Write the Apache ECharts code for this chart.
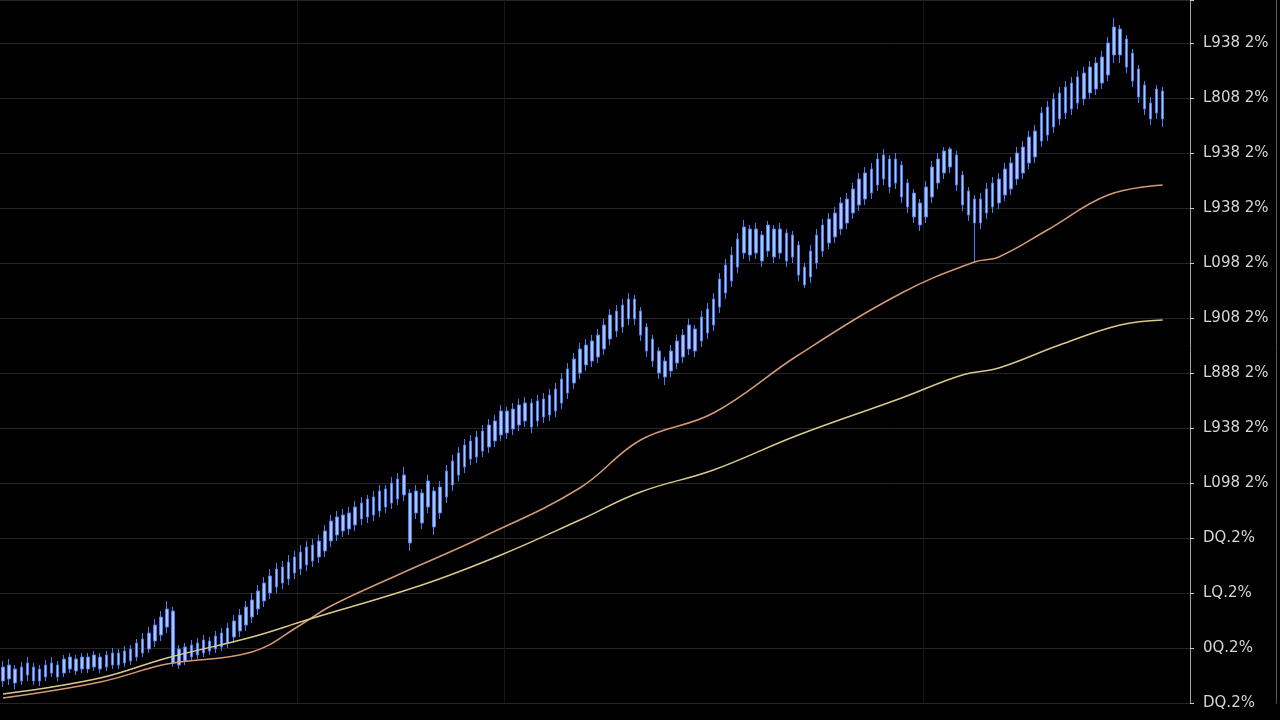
<!DOCTYPE html>
<html>
<head>
<meta charset="utf-8">
<style>
html,body{margin:0;padding:0;background:#000;}
#chart{width:1280px;height:720px;}
</style>
<script src="https://cdn.jsdelivr.net/npm/echarts@6/dist/echarts.min.js"></script>
</head>
<body>
<div id="chart"></div>
<script>
// Candles: [open, close, low, high] (height units above the lowest tick)
const candles = [
[36,22,16,42],[24,38,18,44],[34,20,14,38],[22,36,18,41],[28,40,22,46],[36,22,18,40],[22,34,17,38],[26,38,22,43],[30,40,26,46],[38,26,22,42],
[30,44,26,48],[34,46,30,50],[44,32,28,48],[34,46,30,50],[46,34,30,50],[36,48,32,52],[46,34,30,50],[36,48,32,52],[38,50,34,55],[50,38,34,54],
[40,52,36,57],[42,54,38,58],[46,60,42,64],[50,64,46,70],[54,70,50,76],[62,78,56,84],[68,86,62,92],[76,94,70,102],[92,40,36,96],[38,54,34,58],
[42,56,38,60],[46,58,42,63],[48,60,44,65],[50,63,46,68],[62,52,48,66],[54,67,50,72],[56,70,52,75],[60,75,55,80],[66,82,60,88],[72,88,66,94],
[78,96,72,102],[86,103,80,110],[94,112,88,118],[102,120,96,126],[110,127,104,134],[116,134,110,140],[136,120,114,142],[124,141,118,148],[130,146,124,152],[134,151,128,158],
[138,156,132,162],[158,142,136,164],[146,162,140,168],[152,172,146,178],[162,182,156,188],[168,186,162,192],[188,172,166,194],[174,190,168,196],[178,196,172,202],[184,200,178,206],
[204,186,180,208],[188,206,182,212],[192,212,186,218],[214,196,190,218],[200,220,194,226],[204,224,198,230],[208,228,202,236],[210,160,152,214],[190,212,184,218],[210,180,174,214],
[196,222,190,228],[212,176,168,216],[190,216,184,222],[206,232,200,238],[218,242,212,248],[228,250,222,256],[236,258,230,264],[262,244,238,268],[246,266,240,272],[252,272,246,278],
[256,278,250,284],[262,282,256,288],[268,292,262,298],[292,270,264,296],[274,294,268,300],[278,298,272,304],[282,300,276,306],[300,276,270,304],[282,302,276,308],[286,304,280,310],
[288,308,282,314],[292,314,286,320],[300,324,294,330],[310,334,304,340],[320,344,314,350],[330,354,324,360],[338,358,332,364],[342,362,336,368],[346,368,340,374],[354,378,348,384],
[364,388,358,394],[372,392,366,398],[376,398,370,404],[384,404,378,410],[404,384,378,408],[392,368,362,396],[376,352,346,380],[364,342,336,368],[352,330,324,356],[342,326,318,346],
[332,352,326,358],[340,362,334,368],[346,368,340,374],[354,378,348,384],[374,352,346,378],[362,386,356,392],[370,394,364,400],[378,404,372,410],[396,424,390,430],[410,438,404,444],
[422,448,416,456],[436,464,430,470],[450,476,444,483],[474,448,442,478],[450,474,444,480],[468,442,436,472],[452,478,446,482],[474,446,440,478],[450,474,444,480],[470,442,436,474],
[446,468,440,472],[458,428,422,462],[436,418,415,440],[426,452,420,458],[440,468,434,474],[452,478,446,484],[460,484,454,490],[466,490,460,496],[474,500,468,506],[480,504,474,510],
[490,514,484,520],[498,524,492,530],[504,530,498,536],[510,534,504,540],[518,544,512,550],[524,548,518,554],[544,516,510,548],[520,544,514,550],[538,506,500,542],[520,496,490,524],
[510,486,480,514],[500,478,472,504],[486,516,480,522],[506,536,500,542],[520,544,514,550],[530,552,524,556],[536,554,530,556],[548,518,512,552],[528,498,492,532],[512,488,482,516],
[504,480,441,508],[480,504,474,510],[490,514,484,520],[496,520,490,526],[500,524,494,530],[508,534,502,540],[514,540,508,546],[524,550,518,556],[530,556,524,562],[540,566,534,572],
[546,572,540,578],[562,590,556,596],[568,596,562,602],[576,604,570,610],[584,610,578,616],[590,616,584,622],[594,620,588,626],[600,626,594,632],[604,630,598,636],[610,636,604,642],
[614,640,608,646],[620,646,614,652],[628,660,622,666],[648,676,640,685],[674,648,640,678],[664,636,630,668],[650,622,616,654],[634,606,600,638],[618,594,588,622],[600,584,578,606],
[590,614,584,618],[612,584,576,616]
];

// Moving-average lines read at key candles: candle index and value
const maOrangeIdx = [0, 16, 27, 41, 49, 54, 65, 79, 95, 105, 117, 131, 148, 160, 164, 172, 182, 191];
const maOrangeVal = [5, 21, 39, 51, 78, 97, 128, 166, 215, 263, 290, 348, 410, 441, 446, 473, 508, 518];
const maYellowIdx = [0, 16, 27, 41, 50, 69, 82, 95, 105, 117, 131, 148, 158, 164, 174, 184, 191];
const maYellowVal = [9, 25, 45, 66, 83, 118, 148, 183, 211, 233, 268, 305, 328, 335, 358, 378, 383];

// Y tick labels, bottom to top
const tickLabels = ["DQ.2%", "0Q.2%", "LQ.2%", "DQ.2%", "L098 2%", "L938 2%", "L888 2%", "L908 2%", "L098 2%", "L938 2%", "L938 2%", "L808 2%", "L938 2%"];
const tickStep = 55;

const categories = Array.from({length: candles.length + 4}, (_, i) => 'D' + (i + 1));
const vLineIdx = [49, 83, 152];

const chart = echarts.init(document.getElementById('chart'), null, {renderer: 'canvas'});
chart.setOption({
  backgroundColor: '#000000',
  animation: false,
  grid: {left: 0, right: 90, top: 0, bottom: 17},
  xAxis: {
    type: 'category',
    data: categories,
    boundaryGap: true,
    axisLine: {show: false},
    axisTick: {show: false},
    axisLabel: {show: false},
    splitLine: {
      show: true,
      interval: function (idx) { return vLineIdx.indexOf(idx) >= 0; },
      lineStyle: {color: '#181818', width: 1}
    }
  },
  yAxis: [{
    type: 'value',
    position: 'right',
    min: 0,
    max: 703,
    interval: tickStep,
    axisLine: {show: true, lineStyle: {color: '#a0a0a0', width: 1}},
    axisTick: {show: true, length: 4, lineStyle: {color: '#c8c8c8'}},
    axisLabel: {
      color: '#d6d6d6',
      fontSize: 15,
      fontFamily: 'DejaVu Sans',
      margin: 13,
      formatter: function (v) {
        const k = v / tickStep;
        return Number.isInteger(k) && tickLabels[k] !== undefined ? tickLabels[k] : '';
      }
    },
    splitLine: {show: true, lineStyle: {color: '#262626', width: 1}}
  }, {
    type: 'value',
    position: 'right',
    offset: 86,
    min: 0,
    max: 703,
    axisLine: {show: true, lineStyle: {color: '#5a5a5a', width: 1}},
    axisTick: {show: false},
    axisLabel: {show: false},
    splitLine: {show: false}
  }],
  series: [
    {
      type: 'candlestick',
      data: candles,
      barWidth: 3,
      itemStyle: {
        color: '#a9c4ff',
        color0: '#a9c4ff',
        borderColor: '#4a7cf2',
        borderColor0: '#4a7cf2',
        borderWidth: 1
      }
    },
    {
      type: 'line',
      data: maOrangeIdx.map((x, i) => [x, maOrangeVal[i]]),
      smooth: 0.4,
      showSymbol: false,
      lineStyle: {color: '#d49a74', width: 1.5}
    },
    {
      type: 'line',
      data: maYellowIdx.map((x, i) => [x, maYellowVal[i]]),
      smooth: 0.4,
      showSymbol: false,
      lineStyle: {color: '#d9c98c', width: 1.5}
    }
  ]
});
</script>
</body>
</html>
